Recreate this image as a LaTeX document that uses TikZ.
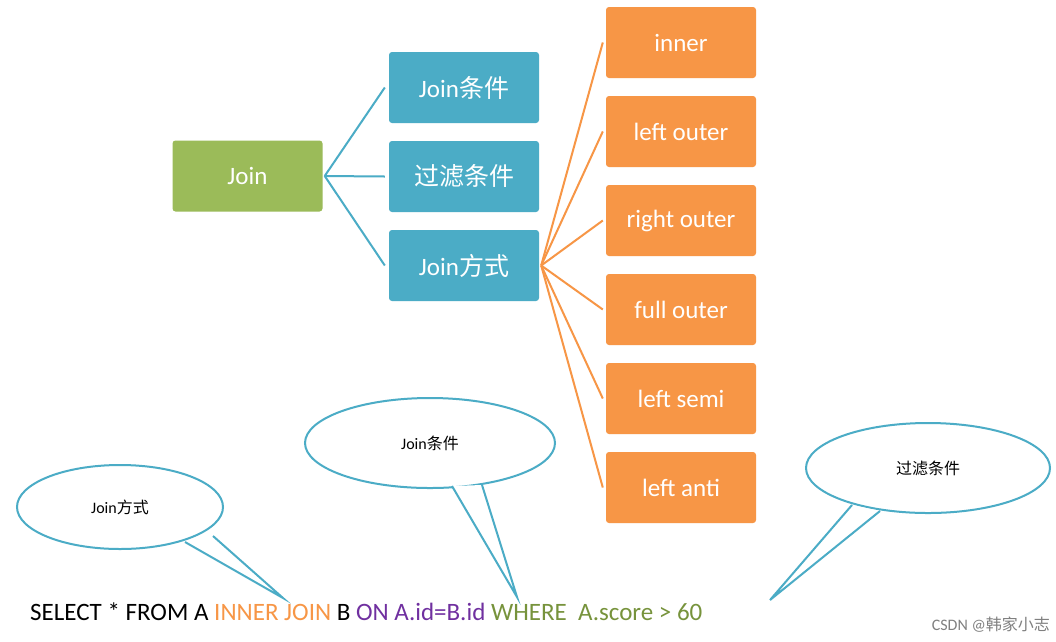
\documentclass[tikz,border=0pt]{standalone}
\usepackage{fontspec}
\setmainfont{Carlito}
\newfontfamily\cjk{Noto Sans CJK SC}
\usetikzlibrary{shapes.geometric}
\definecolor{cgreen}{HTML}{9BBB59}
\definecolor{cblue}{HTML}{4BACC6}
\definecolor{corange}{HTML}{F79646}
\definecolor{cpurple}{HTML}{7030A0}
\definecolor{sqlgreen}{HTML}{77933C}
\begin{document}
\begin{tikzpicture}[x=1pt,y=-1pt,
  box/.style={rounded corners=3pt,minimum width=150pt,minimum height=71pt,text=white,font=\fontsize{25}{28}\selectfont,inner sep=0pt},
  bl/.style={cblue,line width=2pt},
  ol/.style={corange,line width=2pt},
  bub/.style={fill=white,draw=cblue,line width=2pt}]
\useasboundingbox (0,0) rectangle (1056,641);
\fill[white] (0,0) rectangle (1056,641);
\node[box,fill=cgreen] (join) at (247.5,176) {Join};
\node[box,fill=cblue] (b1) at (464,87.5) {Join{\cjk 条件}};
\node[box,fill=cblue] (b2) at (464,176.5) {\cjk 过滤条件};
\node[box,fill=cblue] (b3) at (464,265.5) {Join{\cjk 方式}};
\foreach \n/\t/\y in {o1/inner/42.5,o2/left outer/131.5,o3/right outer/220.5,o4/full outer/309.5,o5/left semi/398.5,o6/left anti/487.5}
  \node[box,fill=corange] (\n) at (681,\y) {\t};
\foreach \b in {b1,b2,b3} \draw[bl] ([xshift=2pt]join.east) -- ([xshift=-4pt]\b.west);
\foreach \o in {o1,o2,o3,o4,o5,o6} \draw[ol] ([xshift=2pt]b3.east) -- ([xshift=-3pt]\o.west);
% callouts
\newcommand{\bubble}[9]{%
 \node[ellipse,bub,minimum width=#3,minimum height=#4,inner sep=0pt] (#9) at (#1,#2) {};
 \coordinate (#9a) at (#5); \coordinate (#9b) at (#6); \coordinate (#9t) at (#7);
 \fill[white] (#9a) -- (#9t) -- (#9b) -- cycle;
 \draw[cblue,line width=2pt,line join=miter] (#9a) -- (#9t) -- (#9b);
 \node[font=\fontsize{16}{18}\selectfont] at (#1,#2) {#8};}
\bubble{120}{507}{206pt}{84pt}{185,542}{213,536}{283,598}{Join{\cjk 方式}}{e1}
\bubble{430}{443}{250pt}{90pt}{452,486}{482,485}{517,597}{Join{\cjk 条件}}{e2}
\bubble{928}{468}{244pt}{90pt}{852,505}{880,511}{770,600}{\cjk 过滤条件}{e3}
\node[anchor=base west,inner sep=0pt,font=\fontsize{25}{28}\selectfont] (sql) at (30,620) {SELECT * FROM A \textcolor{corange}{INNER JOIN} B \textcolor{cpurple}{ON A.id=B.id} \textcolor{sqlgreen}{WHERE\ \ A.score > 60}};
\node[anchor=base east,inner sep=0pt,text=gray,font=\fontsize{16}{18}\selectfont] (wm) at (1050,630) {CSDN @{\cjk 韩家小志}};
\end{tikzpicture}
\end{document}
